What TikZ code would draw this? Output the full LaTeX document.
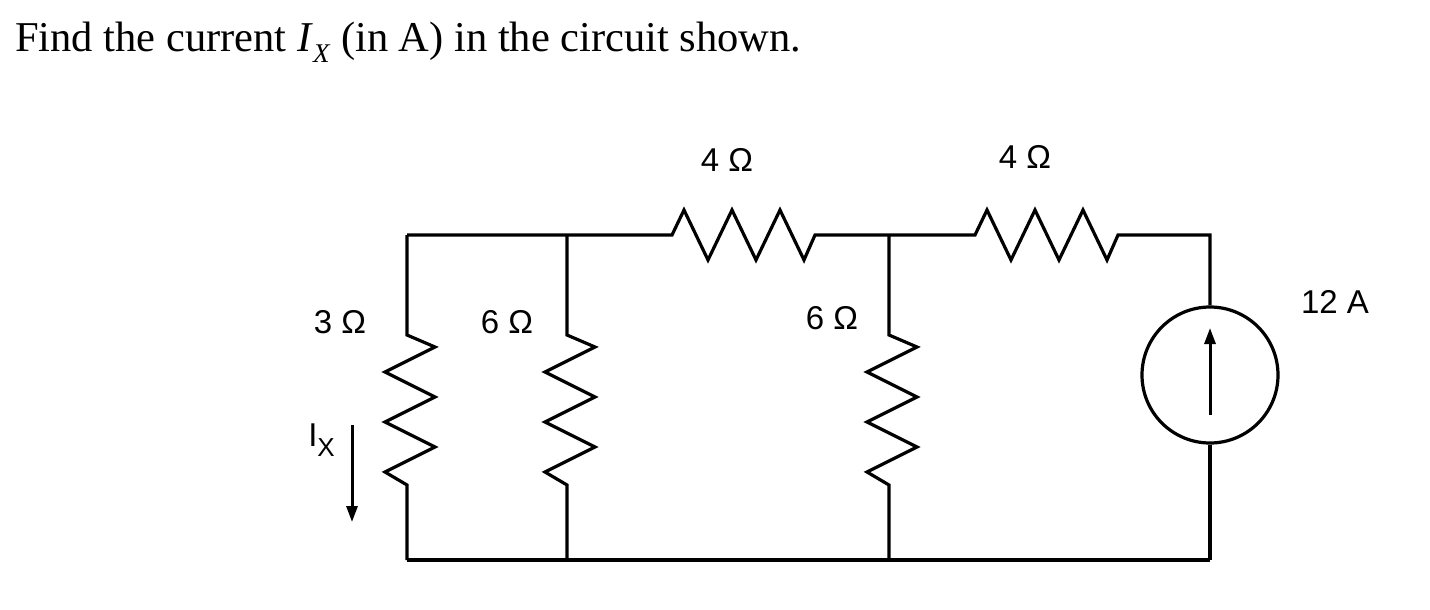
\documentclass[tikz,border=0pt]{standalone}
\usepackage{fontspec}
\setmainfont{Liberation Serif}
\newfontfamily\lab{Liberation Sans}
\usetikzlibrary{arrows.meta}
\tikzset{wire/.style={line width=3.2pt,line join=miter},
 lbl/.style={font=\lab\fontsize{33}{35}\selectfont,inner sep=0pt}}
\begin{document}
\begin{tikzpicture}[x=1pt,y=-1pt]
\useasboundingbox (0,0) rectangle (1430,610);
\node[anchor=base west,inner sep=0pt,font=\fontsize{42.5}{44}\selectfont] (title) at (15,52) {Find the current \textit{I}\raisebox{-0.25em}{\fontsize{27}{28}\selectfont\textit{X}} (in A) in the circuit shown.};
% corners
\coordinate (a) at (407,235); \coordinate (b) at (567,235); \coordinate (c) at (889,235); \coordinate (d) at (1210,235);
\coordinate (a2) at (407,560); \coordinate (b2) at (567,560); \coordinate (c2) at (889,560); \coordinate (d2) at (1210,560);
\node[circle,draw,line width=3.2pt,minimum size=136pt,inner sep=0pt] (src) at (1210,375) {};
\draw[wire] (a2) -- (d2);
\draw[wire] (a) -- (672,235) -- (684,210) -- (708,260) -- (732,210) -- (756,260) -- (780,210) -- (804,260) -- (815,235) -- (c)
 -- (975,235) -- (987,210) -- (1011,260) -- (1035,210) -- (1059,260) -- (1083,210) -- (1107,260) -- (1118,235) -- (d) -- (src.north);
\draw[wire] (src.south) -- (d2);
\foreach \x/\p in {407/a,567/b,889/c}{
 \draw[wire] (\p) -- (\x,335) -- (\x+28,347) -- (\x-22,372) -- (\x+28,397) -- (\x-22,422) -- (\x+28,447) -- (\x-22,472) -- (\x,485) -- (\p2);
}
\draw[line width=3pt,-{Triangle[length=16pt,width=11pt]}] (1210,415) -- (1210,328);
\node[lbl] (r1) at (340,322) {3 Ω};
\node[lbl] (r2) at (507,322) {6 Ω};
\node[lbl] (r3) at (832,318) {6 Ω};
\node[lbl] (r4) at (727,160) {4 Ω};
\node[lbl] (r5) at (1025,157) {4 Ω};
\node[lbl] (s) at (1335,302) {12 A};
\node[lbl,anchor=east] (ix) at (335,440) {I\raisebox{-0.3em}{\fontsize{26}{28}\selectfont X}};
\draw[line width=3pt,-{Triangle[length=16pt,width=11pt]}] (352,425) -- (352,522);
\end{tikzpicture}
\end{document}
